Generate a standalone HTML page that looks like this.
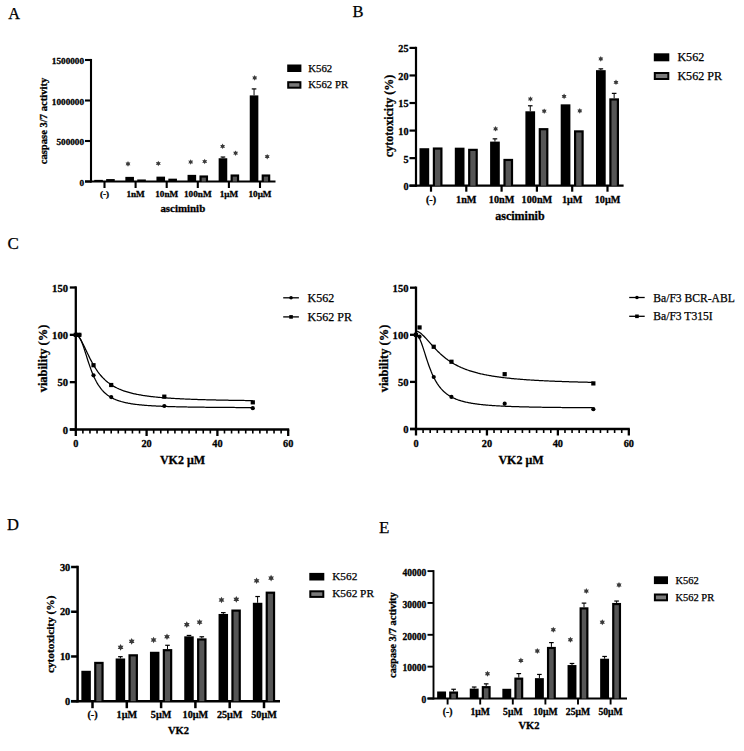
<!DOCTYPE html><html><head><meta charset="utf-8"><style>html,body{margin:0;padding:0;background:#fff;}svg{display:block;font-family:"Liberation Serif",serif;}</style></head><body>
<svg width="744" height="751" viewBox="0 0 744 751">
<rect width="744" height="751" fill="#fff"/>
<text x="8.3" y="19.4" font-size="16.3" font-weight="normal" text-anchor="start" stroke="#000" stroke-width="0.25" fill="#000">A</text>
<text x="352.4" y="17.2" font-size="16.5" font-weight="normal" text-anchor="start" stroke="#000" stroke-width="0.25" fill="#000">B</text>
<text x="7.5" y="249" font-size="17" font-weight="normal" text-anchor="start" stroke="#000" stroke-width="0.25" fill="#000">C</text>
<text x="7" y="530.3" font-size="16.5" font-weight="normal" text-anchor="start" stroke="#000" stroke-width="0.25" fill="#000">D</text>
<text x="379" y="533" font-size="17" font-weight="normal" text-anchor="start" stroke="#000" stroke-width="0.25" fill="#000">E</text>
<line x1="91" y1="58.95" x2="91" y2="182.55" stroke="#000" stroke-width="2.1" stroke-linecap="butt"/>
<line x1="85" y1="181.5" x2="275.5" y2="181.5" stroke="#000" stroke-width="2.1" stroke-linecap="butt"/>
<line x1="85" y1="181.5" x2="91" y2="181.5" stroke="#000" stroke-width="2.1" stroke-linecap="butt"/>
<text x="84" y="185.63" font-size="9.2" font-weight="bold" text-anchor="end" stroke="#000" stroke-width="0.3" fill="#000">0</text>
<line x1="85" y1="141" x2="91" y2="141" stroke="#000" stroke-width="2.1" stroke-linecap="butt"/>
<text x="84" y="145.13" font-size="9.2" font-weight="bold" text-anchor="end" stroke="#000" stroke-width="0.3" fill="#000">500000</text>
<line x1="85" y1="100.5" x2="91" y2="100.5" stroke="#000" stroke-width="2.1" stroke-linecap="butt"/>
<text x="84" y="104.63" font-size="9.2" font-weight="bold" text-anchor="end" stroke="#000" stroke-width="0.3" fill="#000">1000000</text>
<line x1="85" y1="60" x2="91" y2="60" stroke="#000" stroke-width="2.1" stroke-linecap="butt"/>
<text x="84" y="64.13" font-size="9.2" font-weight="bold" text-anchor="end" stroke="#000" stroke-width="0.3" fill="#000">1500000</text>
<line x1="104.5" y1="181.5" x2="104.5" y2="188" stroke="#000" stroke-width="2.1" stroke-linecap="butt"/>
<text x="104.5" y="197" font-size="9.2" font-weight="bold" text-anchor="middle" stroke="#000" stroke-width="0.3" fill="#000">(-)</text>
<rect x="94.25" y="179.88" width="8.6" height="1.62" fill="#000"/>
<rect x="106.15" y="179.07" width="8.6" height="2.43" fill="#000"/>
<line x1="135.6" y1="181.5" x2="135.6" y2="188" stroke="#000" stroke-width="2.1" stroke-linecap="butt"/>
<text x="135.6" y="197" font-size="9.2" font-weight="bold" text-anchor="middle" stroke="#000" stroke-width="0.3" fill="#000">1nM</text>
<rect x="125.35" y="176.88" width="8.6" height="4.62" fill="#000"/>
<rect x="137.25" y="179.47" width="8.6" height="2.03" fill="#000"/>
<line x1="166.7" y1="181.5" x2="166.7" y2="188" stroke="#000" stroke-width="2.1" stroke-linecap="butt"/>
<text x="166.7" y="197" font-size="9.2" font-weight="bold" text-anchor="middle" stroke="#000" stroke-width="0.3" fill="#000">10nM</text>
<rect x="156.45" y="176.64" width="8.6" height="4.86" fill="#000"/>
<rect x="168.35" y="178.66" width="8.6" height="2.84" fill="#000"/>
<line x1="197.8" y1="181.5" x2="197.8" y2="188" stroke="#000" stroke-width="2.1" stroke-linecap="butt"/>
<text x="197.8" y="197" font-size="9.2" font-weight="bold" text-anchor="middle" stroke="#000" stroke-width="0.3" fill="#000">100nM</text>
<rect x="187.55" y="174.86" width="8.6" height="6.64" fill="#000"/>
<rect x="199.45" y="175.43" width="8.6" height="6.07" fill="#000"/>
<rect x="201.65" y="177.62" width="4.2" height="3.87" fill="#565656"/>
<line x1="228.9" y1="181.5" x2="228.9" y2="188" stroke="#000" stroke-width="2.1" stroke-linecap="butt"/>
<text x="228.9" y="197" font-size="9.2" font-weight="bold" text-anchor="middle" stroke="#000" stroke-width="0.3" fill="#000">1&#956;M</text>
<line x1="222.95" y1="157.04" x2="222.95" y2="158.25" stroke="#000" stroke-width="1" stroke-linecap="butt"/>
<line x1="220.65" y1="157.04" x2="225.25" y2="157.04" stroke="#000" stroke-width="1.2" stroke-linecap="butt"/>
<rect x="218.65" y="158.25" width="8.6" height="23.25" fill="#000"/>
<rect x="230.55" y="174.45" width="8.6" height="7.05" fill="#000"/>
<rect x="232.75" y="176.65" width="4.2" height="4.85" fill="#565656"/>
<line x1="260" y1="181.5" x2="260" y2="188" stroke="#000" stroke-width="2.1" stroke-linecap="butt"/>
<text x="260" y="197" font-size="9.2" font-weight="bold" text-anchor="middle" stroke="#000" stroke-width="0.3" fill="#000">10&#956;M</text>
<line x1="254.05" y1="88.92" x2="254.05" y2="95.4" stroke="#000" stroke-width="1" stroke-linecap="butt"/>
<line x1="251.75" y1="88.92" x2="256.35" y2="88.92" stroke="#000" stroke-width="1.2" stroke-linecap="butt"/>
<rect x="249.75" y="95.4" width="8.6" height="86.1" fill="#000"/>
<rect x="261.65" y="174.45" width="8.6" height="7.05" fill="#000"/>
<rect x="263.85" y="176.65" width="4.2" height="4.85" fill="#565656"/>
<polygon points="128,161.1 128.77,162.57 130.42,162.5 129.54,163.9 130.42,165.3 128.77,165.23 128,166.7 127.23,165.23 125.58,165.3 126.46,163.9 125.58,162.5 127.23,162.57" fill="#3a3a3a"/>
<polygon points="158.3,160.7 159.07,162.17 160.72,162.1 159.84,163.5 160.72,164.9 159.07,164.83 158.3,166.3 157.53,164.83 155.88,164.9 156.76,163.5 155.88,162.1 157.53,162.17" fill="#3a3a3a"/>
<polygon points="190.7,159.2 191.47,160.67 193.12,160.6 192.24,162 193.12,163.4 191.47,163.33 190.7,164.8 189.93,163.33 188.28,163.4 189.16,162 188.28,160.6 189.93,160.67" fill="#3a3a3a"/>
<polygon points="204.7,158.7 205.47,160.17 207.12,160.1 206.24,161.5 207.12,162.9 205.47,162.83 204.7,164.3 203.93,162.83 202.28,162.9 203.16,161.5 202.28,160.1 203.93,160.17" fill="#3a3a3a"/>
<polygon points="222.6,143.5 223.37,144.97 225.02,144.9 224.14,146.3 225.02,147.7 223.37,147.63 222.6,149.1 221.83,147.63 220.18,147.7 221.06,146.3 220.18,144.9 221.83,144.97" fill="#3a3a3a"/>
<polygon points="235.6,150.4 236.37,151.87 238.02,151.8 237.14,153.2 238.02,154.6 236.37,154.53 235.6,156 234.83,154.53 233.18,154.6 234.06,153.2 233.18,151.8 234.83,151.87" fill="#3a3a3a"/>
<polygon points="254.7,75.1 255.47,76.57 257.12,76.5 256.24,77.9 257.12,79.3 255.47,79.23 254.7,80.7 253.93,79.23 252.28,79.3 253.16,77.9 252.28,76.5 253.93,76.57" fill="#3a3a3a"/>
<polygon points="267.2,153.9 267.97,155.37 269.62,155.3 268.74,156.7 269.62,158.1 267.97,158.03 267.2,159.5 266.43,158.03 264.78,158.1 265.66,156.7 264.78,155.3 266.43,155.37" fill="#3a3a3a"/>
<text x="182.8" y="211.8" font-size="10.9" font-weight="bold" text-anchor="middle" stroke="#000" stroke-width="0.3" fill="#000">asciminib</text>
<text x="47" y="121" font-size="10.6" font-weight="bold" text-anchor="middle" transform="rotate(-90 47 121)" stroke="#000" stroke-width="0.3" fill="#000">caspase 3/7 activity</text>
<rect x="287.2" y="64.5" width="14.2" height="7.5" fill="#000"/>
<text x="308.2" y="71.5" font-size="10.8" font-weight="normal" text-anchor="start" stroke="#000" stroke-width="0.25" fill="#000">K562</text>
<rect x="287.2" y="81.2" width="14.2" height="7.5" fill="#000"/>
<rect x="289.2" y="83.2" width="10.2" height="3.5" fill="#7a7a7a"/>
<text x="308.2" y="88.2" font-size="10.8" font-weight="normal" text-anchor="start" stroke="#000" stroke-width="0.25" fill="#000">K562 PR</text>
<line x1="416" y1="46.8" x2="416" y2="186.8" stroke="#000" stroke-width="2.2" stroke-linecap="butt"/>
<line x1="409.5" y1="185.7" x2="623.6" y2="185.7" stroke="#000" stroke-width="2.2" stroke-linecap="butt"/>
<line x1="409.5" y1="185.7" x2="416" y2="185.7" stroke="#000" stroke-width="2.2" stroke-linecap="butt"/>
<text x="408.5" y="190.17" font-size="10.2" font-weight="bold" text-anchor="end" stroke="#000" stroke-width="0.3" fill="#000">0</text>
<line x1="409.5" y1="158.14" x2="416" y2="158.14" stroke="#000" stroke-width="2.2" stroke-linecap="butt"/>
<text x="408.5" y="162.61" font-size="10.2" font-weight="bold" text-anchor="end" stroke="#000" stroke-width="0.3" fill="#000">5</text>
<line x1="409.5" y1="130.58" x2="416" y2="130.58" stroke="#000" stroke-width="2.2" stroke-linecap="butt"/>
<text x="408.5" y="135.05" font-size="10.2" font-weight="bold" text-anchor="end" stroke="#000" stroke-width="0.3" fill="#000">10</text>
<line x1="409.5" y1="103.02" x2="416" y2="103.02" stroke="#000" stroke-width="2.2" stroke-linecap="butt"/>
<text x="408.5" y="107.49" font-size="10.2" font-weight="bold" text-anchor="end" stroke="#000" stroke-width="0.3" fill="#000">15</text>
<line x1="409.5" y1="75.46" x2="416" y2="75.46" stroke="#000" stroke-width="2.2" stroke-linecap="butt"/>
<text x="408.5" y="79.93" font-size="10.2" font-weight="bold" text-anchor="end" stroke="#000" stroke-width="0.3" fill="#000">20</text>
<line x1="409.5" y1="47.9" x2="416" y2="47.9" stroke="#000" stroke-width="2.2" stroke-linecap="butt"/>
<text x="408.5" y="52.37" font-size="10.2" font-weight="bold" text-anchor="end" stroke="#000" stroke-width="0.3" fill="#000">25</text>
<line x1="431" y1="185.7" x2="431" y2="191.7" stroke="#000" stroke-width="2.2" stroke-linecap="butt"/>
<text x="431" y="203.3" font-size="10.2" font-weight="bold" text-anchor="middle" stroke="#000" stroke-width="0.3" fill="#000">(-)</text>
<rect x="419.5" y="148.22" width="9.7" height="37.48" fill="#000"/>
<rect x="432.8" y="147.45" width="9.7" height="38.25" fill="#000"/>
<rect x="435" y="149.65" width="5.3" height="36.05" fill="#565656"/>
<line x1="466.3" y1="185.7" x2="466.3" y2="191.7" stroke="#000" stroke-width="2.2" stroke-linecap="butt"/>
<text x="466.3" y="203.3" font-size="10.2" font-weight="bold" text-anchor="middle" stroke="#000" stroke-width="0.3" fill="#000">1nM</text>
<rect x="454.8" y="147.67" width="9.7" height="38.03" fill="#000"/>
<rect x="468.1" y="148.77" width="9.7" height="36.93" fill="#000"/>
<rect x="470.3" y="150.97" width="5.3" height="34.73" fill="#565656"/>
<line x1="501.6" y1="185.7" x2="501.6" y2="191.7" stroke="#000" stroke-width="2.2" stroke-linecap="butt"/>
<text x="501.6" y="203.3" font-size="10.2" font-weight="bold" text-anchor="middle" stroke="#000" stroke-width="0.3" fill="#000">10nM</text>
<line x1="494.95" y1="138.85" x2="494.95" y2="141.6" stroke="#000" stroke-width="1" stroke-linecap="butt"/>
<line x1="492.65" y1="138.85" x2="497.25" y2="138.85" stroke="#000" stroke-width="1.2" stroke-linecap="butt"/>
<rect x="490.1" y="141.6" width="9.7" height="44.1" fill="#000"/>
<rect x="503.4" y="158.86" width="9.7" height="26.84" fill="#000"/>
<rect x="505.6" y="161.06" width="5.3" height="24.64" fill="#565656"/>
<line x1="536.9" y1="185.7" x2="536.9" y2="191.7" stroke="#000" stroke-width="2.2" stroke-linecap="butt"/>
<text x="536.9" y="203.3" font-size="10.2" font-weight="bold" text-anchor="middle" stroke="#000" stroke-width="0.3" fill="#000">100nM</text>
<line x1="530.25" y1="105.78" x2="530.25" y2="111.29" stroke="#000" stroke-width="1" stroke-linecap="butt"/>
<line x1="527.95" y1="105.78" x2="532.55" y2="105.78" stroke="#000" stroke-width="1.2" stroke-linecap="butt"/>
<rect x="525.4" y="111.29" width="9.7" height="74.41" fill="#000"/>
<rect x="538.7" y="128.1" width="9.7" height="57.6" fill="#000"/>
<rect x="540.9" y="130.3" width="5.3" height="55.4" fill="#565656"/>
<line x1="572.2" y1="185.7" x2="572.2" y2="191.7" stroke="#000" stroke-width="2.2" stroke-linecap="butt"/>
<text x="572.2" y="203.3" font-size="10.2" font-weight="bold" text-anchor="middle" stroke="#000" stroke-width="0.3" fill="#000">1&#956;M</text>
<rect x="560.7" y="104.34" width="9.7" height="81.36" fill="#000"/>
<rect x="574" y="130.3" width="9.7" height="55.4" fill="#000"/>
<rect x="576.2" y="132.5" width="5.3" height="53.2" fill="#565656"/>
<line x1="607.5" y1="185.7" x2="607.5" y2="191.7" stroke="#000" stroke-width="2.2" stroke-linecap="butt"/>
<text x="607.5" y="203.3" font-size="10.2" font-weight="bold" text-anchor="middle" stroke="#000" stroke-width="0.3" fill="#000">10&#956;M</text>
<line x1="600.85" y1="68.85" x2="600.85" y2="70.17" stroke="#000" stroke-width="1" stroke-linecap="butt"/>
<line x1="598.55" y1="68.85" x2="603.15" y2="68.85" stroke="#000" stroke-width="1.2" stroke-linecap="butt"/>
<rect x="596" y="70.17" width="9.7" height="115.53" fill="#000"/>
<line x1="614.15" y1="93.37" x2="614.15" y2="98.33" stroke="#000" stroke-width="1" stroke-linecap="butt"/>
<line x1="611.85" y1="93.37" x2="616.45" y2="93.37" stroke="#000" stroke-width="1.2" stroke-linecap="butt"/>
<rect x="609.3" y="98.33" width="9.7" height="87.37" fill="#000"/>
<rect x="611.5" y="100.53" width="5.3" height="85.17" fill="#565656"/>
<polygon points="495.6,126 496.37,127.47 498.02,127.4 497.14,128.8 498.02,130.2 496.37,130.13 495.6,131.6 494.83,130.13 493.18,130.2 494.06,128.8 493.18,127.4 494.83,127.47" fill="#3a3a3a"/>
<polygon points="530.4,96.2 531.17,97.67 532.82,97.6 531.94,99 532.82,100.4 531.17,100.33 530.4,101.8 529.63,100.33 527.98,100.4 528.86,99 527.98,97.6 529.63,97.67" fill="#3a3a3a"/>
<polygon points="544.2,108.4 544.97,109.87 546.62,109.8 545.74,111.2 546.62,112.6 544.97,112.53 544.2,114 543.43,112.53 541.78,112.6 542.66,111.2 541.78,109.8 543.43,109.87" fill="#3a3a3a"/>
<polygon points="564.1,93.6 564.87,95.07 566.52,95 565.64,96.4 566.52,97.8 564.87,97.73 564.1,99.2 563.33,97.73 561.68,97.8 562.56,96.4 561.68,95 563.33,95.07" fill="#3a3a3a"/>
<polygon points="579.8,108.1 580.57,109.57 582.22,109.5 581.34,110.9 582.22,112.3 580.57,112.23 579.8,113.7 579.03,112.23 577.38,112.3 578.26,110.9 577.38,109.5 579.03,109.57" fill="#3a3a3a"/>
<polygon points="600.8,56.1 601.57,57.57 603.22,57.5 602.34,58.9 603.22,60.3 601.57,60.23 600.8,61.7 600.03,60.23 598.38,60.3 599.26,58.9 598.38,57.5 600.03,57.57" fill="#3a3a3a"/>
<polygon points="616,79.5 616.77,80.97 618.42,80.9 617.54,82.3 618.42,83.7 616.77,83.63 616,85.1 615.23,83.63 613.58,83.7 614.46,82.3 613.58,80.9 615.23,80.97" fill="#3a3a3a"/>
<text x="519.9" y="219.6" font-size="12" font-weight="bold" text-anchor="middle" stroke="#000" stroke-width="0.3" fill="#000">asciminib</text>
<text x="392.5" y="116" font-size="12" font-weight="bold" text-anchor="middle" transform="rotate(-90 392.5 116)" stroke="#000" stroke-width="0.3" fill="#000">cytotoxicity (%)</text>
<rect x="653.8" y="53.3" width="15.5" height="8" fill="#000"/>
<text x="677.4" y="60.8" font-size="12.1" font-weight="normal" text-anchor="start" stroke="#000" stroke-width="0.25" fill="#000">K562</text>
<rect x="653.8" y="72" width="15.5" height="8" fill="#000"/>
<rect x="655.8" y="74" width="11.5" height="4" fill="#7a7a7a"/>
<text x="677.4" y="79.5" font-size="12.1" font-weight="normal" text-anchor="start" stroke="#000" stroke-width="0.25" fill="#000">K562 PR</text>
<line x1="75.8" y1="286.35" x2="75.8" y2="430.65" stroke="#000" stroke-width="2.3" stroke-linecap="butt"/>
<line x1="69.8" y1="429.5" x2="289.2" y2="429.5" stroke="#000" stroke-width="2.3" stroke-linecap="butt"/>
<line x1="69.8" y1="429.5" x2="75.8" y2="429.5" stroke="#000" stroke-width="2.3" stroke-linecap="butt"/>
<text x="68" y="433.8" font-size="10.6" font-weight="bold" text-anchor="end" stroke="#000" stroke-width="0.3" fill="#000">0</text>
<line x1="69.8" y1="382.17" x2="75.8" y2="382.17" stroke="#000" stroke-width="2.3" stroke-linecap="butt"/>
<text x="68" y="386.47" font-size="10.6" font-weight="bold" text-anchor="end" stroke="#000" stroke-width="0.3" fill="#000">50</text>
<line x1="69.8" y1="334.83" x2="75.8" y2="334.83" stroke="#000" stroke-width="2.3" stroke-linecap="butt"/>
<text x="68" y="339.13" font-size="10.6" font-weight="bold" text-anchor="end" stroke="#000" stroke-width="0.3" fill="#000">100</text>
<line x1="69.8" y1="287.5" x2="75.8" y2="287.5" stroke="#000" stroke-width="2.3" stroke-linecap="butt"/>
<text x="68" y="291.8" font-size="10.6" font-weight="bold" text-anchor="end" stroke="#000" stroke-width="0.3" fill="#000">150</text>
<line x1="75.8" y1="429.5" x2="75.8" y2="436" stroke="#000" stroke-width="2.3" stroke-linecap="butt"/>
<text x="75.8" y="447.2" font-size="10.3" font-weight="bold" text-anchor="middle" stroke="#000" stroke-width="0.3" fill="#000">0</text>
<line x1="82.88" y1="429.5" x2="82.88" y2="433.5" stroke="#000" stroke-width="1.6" stroke-linecap="butt"/>
<line x1="89.96" y1="429.5" x2="89.96" y2="433.5" stroke="#000" stroke-width="1.6" stroke-linecap="butt"/>
<line x1="97.04" y1="429.5" x2="97.04" y2="433.5" stroke="#000" stroke-width="1.6" stroke-linecap="butt"/>
<line x1="104.12" y1="429.5" x2="104.12" y2="433.5" stroke="#000" stroke-width="1.6" stroke-linecap="butt"/>
<line x1="111.2" y1="429.5" x2="111.2" y2="433.5" stroke="#000" stroke-width="1.6" stroke-linecap="butt"/>
<line x1="118.28" y1="429.5" x2="118.28" y2="433.5" stroke="#000" stroke-width="1.6" stroke-linecap="butt"/>
<line x1="125.36" y1="429.5" x2="125.36" y2="433.5" stroke="#000" stroke-width="1.6" stroke-linecap="butt"/>
<line x1="132.44" y1="429.5" x2="132.44" y2="433.5" stroke="#000" stroke-width="1.6" stroke-linecap="butt"/>
<line x1="139.52" y1="429.5" x2="139.52" y2="433.5" stroke="#000" stroke-width="1.6" stroke-linecap="butt"/>
<line x1="146.6" y1="429.5" x2="146.6" y2="436" stroke="#000" stroke-width="2.3" stroke-linecap="butt"/>
<text x="146.6" y="447.2" font-size="10.3" font-weight="bold" text-anchor="middle" stroke="#000" stroke-width="0.3" fill="#000">20</text>
<line x1="153.68" y1="429.5" x2="153.68" y2="433.5" stroke="#000" stroke-width="1.6" stroke-linecap="butt"/>
<line x1="160.76" y1="429.5" x2="160.76" y2="433.5" stroke="#000" stroke-width="1.6" stroke-linecap="butt"/>
<line x1="167.84" y1="429.5" x2="167.84" y2="433.5" stroke="#000" stroke-width="1.6" stroke-linecap="butt"/>
<line x1="174.92" y1="429.5" x2="174.92" y2="433.5" stroke="#000" stroke-width="1.6" stroke-linecap="butt"/>
<line x1="182" y1="429.5" x2="182" y2="433.5" stroke="#000" stroke-width="1.6" stroke-linecap="butt"/>
<line x1="189.08" y1="429.5" x2="189.08" y2="433.5" stroke="#000" stroke-width="1.6" stroke-linecap="butt"/>
<line x1="196.16" y1="429.5" x2="196.16" y2="433.5" stroke="#000" stroke-width="1.6" stroke-linecap="butt"/>
<line x1="203.24" y1="429.5" x2="203.24" y2="433.5" stroke="#000" stroke-width="1.6" stroke-linecap="butt"/>
<line x1="210.32" y1="429.5" x2="210.32" y2="433.5" stroke="#000" stroke-width="1.6" stroke-linecap="butt"/>
<line x1="217.4" y1="429.5" x2="217.4" y2="436" stroke="#000" stroke-width="2.3" stroke-linecap="butt"/>
<text x="217.4" y="447.2" font-size="10.3" font-weight="bold" text-anchor="middle" stroke="#000" stroke-width="0.3" fill="#000">40</text>
<line x1="224.48" y1="429.5" x2="224.48" y2="433.5" stroke="#000" stroke-width="1.6" stroke-linecap="butt"/>
<line x1="231.56" y1="429.5" x2="231.56" y2="433.5" stroke="#000" stroke-width="1.6" stroke-linecap="butt"/>
<line x1="238.64" y1="429.5" x2="238.64" y2="433.5" stroke="#000" stroke-width="1.6" stroke-linecap="butt"/>
<line x1="245.72" y1="429.5" x2="245.72" y2="433.5" stroke="#000" stroke-width="1.6" stroke-linecap="butt"/>
<line x1="252.8" y1="429.5" x2="252.8" y2="433.5" stroke="#000" stroke-width="1.6" stroke-linecap="butt"/>
<line x1="259.88" y1="429.5" x2="259.88" y2="433.5" stroke="#000" stroke-width="1.6" stroke-linecap="butt"/>
<line x1="266.96" y1="429.5" x2="266.96" y2="433.5" stroke="#000" stroke-width="1.6" stroke-linecap="butt"/>
<line x1="274.04" y1="429.5" x2="274.04" y2="433.5" stroke="#000" stroke-width="1.6" stroke-linecap="butt"/>
<line x1="281.12" y1="429.5" x2="281.12" y2="433.5" stroke="#000" stroke-width="1.6" stroke-linecap="butt"/>
<line x1="288.2" y1="429.5" x2="288.2" y2="436" stroke="#000" stroke-width="2.3" stroke-linecap="butt"/>
<text x="288.2" y="447.2" font-size="10.3" font-weight="bold" text-anchor="middle" stroke="#000" stroke-width="0.3" fill="#000">60</text>
<path d="M75.8 334.83 L76.69 334.95 L77.57 335.36 L78.45 336.14 L79.34 337.28 L80.22 338.78 L81.11 340.61 L82 342.73 L82.88 345.1 L83.77 347.65 L84.65 350.34 L85.53 353.11 L86.42 355.91 L87.3 358.7 L88.19 361.44 L89.08 364.1 L89.96 366.67 L90.84 369.13 L91.73 371.47 L92.61 373.68 L93.5 375.76 L94.38 377.71 L95.27 379.54 L96.16 381.25 L97.04 382.84 L97.92 384.32 L98.81 385.7 L99.69 386.99 L100.58 388.18 L101.47 389.3 L102.35 390.33 L103.23 391.29 L104.12 392.19 L105 393.02 L105.89 393.8 L106.78 394.52 L107.66 395.2 L108.54 395.83 L109.43 396.42 L110.31 396.98 L111.2 397.49 L112.09 397.98 L112.97 398.43 L113.85 398.86 L114.74 399.26 L115.62 399.64 L116.51 399.99 L117.39 400.32 L118.28 400.64 L119.16 400.94 L120.05 401.22 L120.94 401.48 L121.82 401.73 L122.7 401.97 L123.59 402.19 L124.47 402.41 L125.36 402.61 L126.25 402.8 L127.13 402.98 L128.01 403.16 L128.9 403.32 L129.78 403.48 L130.67 403.63 L131.56 403.77 L132.44 403.91 L133.32 404.04 L134.21 404.16 L135.09 404.28 L135.98 404.39 L136.87 404.5 L137.75 404.6 L138.63 404.7 L139.52 404.8 L140.41 404.89 L141.29 404.97 L142.18 405.06 L143.06 405.14 L143.94 405.22 L144.83 405.29 L145.72 405.36 L146.6 405.43 L147.49 405.5 L148.37 405.56 L149.25 405.62 L150.14 405.68 L151.02 405.74 L151.91 405.79 L152.8 405.84 L153.68 405.89 L154.56 405.94 L155.45 405.99 L156.33 406.04 L157.22 406.08 L158.11 406.12 L158.99 406.17 L159.88 406.21 L160.76 406.24 L161.64 406.28 L162.53 406.32 L163.41 406.35 L164.3 406.39 L165.19 406.42 L166.07 406.45 L166.95 406.48 L167.84 406.51 L168.72 406.54 L169.61 406.57 L170.5 406.6 L171.38 406.63 L172.26 406.65 L173.15 406.68 L174.03 406.7 L174.92 406.72 L175.81 406.75 L176.69 406.77 L177.57 406.79 L178.46 406.81 L179.34 406.83 L180.23 406.85 L181.12 406.87 L182 406.89 L182.88 406.91 L183.77 406.93 L184.66 406.95 L185.54 406.96 L186.43 406.98 L187.31 407 L188.19 407.01 L189.08 407.03 L189.97 407.04 L190.85 407.06 L191.74 407.07 L192.62 407.09 L193.5 407.1 L194.39 407.11 L195.27 407.13 L196.16 407.14 L197.05 407.15 L197.93 407.16 L198.81 407.18 L199.7 407.19 L200.58 407.2 L201.47 407.21 L202.36 407.22 L203.24 407.23 L204.12 407.24 L205.01 407.25 L205.89 407.26 L206.78 407.27 L207.67 407.28 L208.55 407.29 L209.44 407.3 L210.32 407.31 L211.2 407.32 L212.09 407.33 L212.98 407.34 L213.86 407.34 L214.75 407.35 L215.63 407.36 L216.51 407.37 L217.4 407.38 L218.29 407.38 L219.17 407.39 L220.06 407.4 L220.94 407.4 L221.82 407.41 L222.71 407.42 L223.59 407.42 L224.48 407.43 L225.37 407.44 L226.25 407.44 L227.13 407.45 L228.02 407.46 L228.9 407.46 L229.79 407.47 L230.68 407.47 L231.56 407.48 L232.44 407.48 L233.33 407.49 L234.21 407.49 L235.1 407.5 L235.99 407.51 L236.87 407.51 L237.75 407.51 L238.64 407.52 L239.52 407.52 L240.41 407.53 L241.3 407.53 L242.18 407.54 L243.06 407.54 L243.95 407.55 L244.83 407.55 L245.72 407.56 L246.61 407.56 L247.49 407.56 L248.38 407.57 L249.26 407.57 L250.14 407.58 L251.03 407.58 L251.92 407.58 L252.8 407.59" stroke="#000" stroke-width="1.25" fill="none"/>
<circle cx="75.8" cy="334.83" r="2.1" fill="#000"/>
<circle cx="79.34" cy="334.83" r="2.1" fill="#000"/>
<circle cx="93.5" cy="375.35" r="2.1" fill="#000"/>
<circle cx="111.2" cy="397.12" r="2.1" fill="#000"/>
<circle cx="164.3" cy="406.02" r="2.1" fill="#000"/>
<circle cx="252.8" cy="408.2" r="2.1" fill="#000"/>
<path d="M75.8 334.83 L76.69 335.05 L77.57 335.62 L78.45 336.47 L79.34 337.56 L80.22 338.86 L81.11 340.33 L82 341.94 L82.88 343.66 L83.77 345.46 L84.65 347.3 L85.53 349.18 L86.42 351.07 L87.3 352.95 L88.19 354.81 L89.08 356.63 L89.96 358.41 L90.84 360.14 L91.73 361.81 L92.61 363.43 L93.5 364.99 L94.38 366.48 L95.27 367.91 L96.16 369.28 L97.04 370.58 L97.92 371.83 L98.81 373.02 L99.69 374.15 L100.58 375.23 L101.47 376.26 L102.35 377.24 L103.23 378.17 L104.12 379.05 L105 379.89 L105.89 380.69 L106.78 381.45 L107.66 382.18 L108.54 382.87 L109.43 383.53 L110.31 384.16 L111.2 384.75 L112.09 385.32 L112.97 385.87 L113.85 386.39 L114.74 386.88 L115.62 387.36 L116.51 387.81 L117.39 388.24 L118.28 388.65 L119.16 389.05 L120.05 389.43 L120.94 389.79 L121.82 390.14 L122.7 390.47 L123.59 390.79 L124.47 391.09 L125.36 391.39 L126.25 391.67 L127.13 391.94 L128.01 392.2 L128.9 392.45 L129.78 392.69 L130.67 392.93 L131.56 393.15 L132.44 393.36 L133.32 393.57 L134.21 393.77 L135.09 393.96 L135.98 394.15 L136.87 394.33 L137.75 394.5 L138.63 394.67 L139.52 394.83 L140.41 394.99 L141.29 395.14 L142.18 395.28 L143.06 395.43 L143.94 395.56 L144.83 395.69 L145.72 395.82 L146.6 395.95 L147.49 396.07 L148.37 396.18 L149.25 396.3 L150.14 396.41 L151.02 396.51 L151.91 396.62 L152.8 396.72 L153.68 396.81 L154.56 396.91 L155.45 397 L156.33 397.09 L157.22 397.18 L158.11 397.26 L158.99 397.34 L159.88 397.42 L160.76 397.5 L161.64 397.57 L162.53 397.65 L163.41 397.72 L164.3 397.79 L165.19 397.86 L166.07 397.92 L166.95 397.99 L167.84 398.05 L168.72 398.11 L169.61 398.17 L170.5 398.23 L171.38 398.29 L172.26 398.34 L173.15 398.4 L174.03 398.45 L174.92 398.5 L175.81 398.55 L176.69 398.6 L177.57 398.65 L178.46 398.7 L179.34 398.74 L180.23 398.79 L181.12 398.83 L182 398.87 L182.88 398.91 L183.77 398.96 L184.66 399 L185.54 399.03 L186.43 399.07 L187.31 399.11 L188.19 399.15 L189.08 399.18 L189.97 399.22 L190.85 399.25 L191.74 399.29 L192.62 399.32 L193.5 399.35 L194.39 399.38 L195.27 399.42 L196.16 399.45 L197.05 399.48 L197.93 399.51 L198.81 399.53 L199.7 399.56 L200.58 399.59 L201.47 399.62 L202.36 399.64 L203.24 399.67 L204.12 399.7 L205.01 399.72 L205.89 399.75 L206.78 399.77 L207.67 399.79 L208.55 399.82 L209.44 399.84 L210.32 399.86 L211.2 399.89 L212.09 399.91 L212.98 399.93 L213.86 399.95 L214.75 399.97 L215.63 399.99 L216.51 400.01 L217.4 400.03 L218.29 400.05 L219.17 400.07 L220.06 400.09 L220.94 400.1 L221.82 400.12 L222.71 400.14 L223.59 400.16 L224.48 400.17 L225.37 400.19 L226.25 400.21 L227.13 400.22 L228.02 400.24 L228.9 400.26 L229.79 400.27 L230.68 400.29 L231.56 400.3 L232.44 400.32 L233.33 400.33 L234.21 400.35 L235.1 400.36 L235.99 400.37 L236.87 400.39 L237.75 400.4 L238.64 400.41 L239.52 400.43 L240.41 400.44 L241.3 400.45 L242.18 400.47 L243.06 400.48 L243.95 400.49 L244.83 400.5 L245.72 400.51 L246.61 400.53 L247.49 400.54 L248.38 400.55 L249.26 400.56 L250.14 400.57 L251.03 400.58 L251.92 400.59 L252.8 400.6" stroke="#000" stroke-width="1.25" fill="none"/>
<rect x="73.7" y="332.73" width="4.2" height="4.2" fill="#000"/>
<rect x="77.24" y="332.73" width="4.2" height="4.2" fill="#000"/>
<rect x="91.4" y="363.12" width="4.2" height="4.2" fill="#000"/>
<rect x="109.1" y="382.91" width="4.2" height="4.2" fill="#000"/>
<rect x="162.2" y="394.55" width="4.2" height="4.2" fill="#000"/>
<rect x="250.7" y="400.23" width="4.2" height="4.2" fill="#000"/>
<text x="182.5" y="463.9" font-size="12" font-weight="bold" text-anchor="middle" stroke="#000" stroke-width="0.3" fill="#000">VK2 &#956;M</text>
<text x="47.3" y="358.5" font-size="12.5" font-weight="bold" text-anchor="middle" transform="rotate(-90 47.3 358.5)" stroke="#000" stroke-width="0.3" fill="#000">viability (%)</text>
<line x1="283.2" y1="297.8" x2="298.9" y2="297.8" stroke="#000" stroke-width="1.3" stroke-linecap="butt"/>
<circle cx="291.05" cy="297.8" r="1.8" fill="#000"/>
<text x="307.6" y="301.8" font-size="12" font-weight="normal" text-anchor="start" stroke="#000" stroke-width="0.25" fill="#000">K562</text>
<line x1="283.2" y1="316.9" x2="298.9" y2="316.9" stroke="#000" stroke-width="1.3" stroke-linecap="butt"/>
<rect x="289.25" y="315.1" width="3.6" height="3.6" fill="#000"/>
<text x="307.6" y="320.9" font-size="12" font-weight="normal" text-anchor="start" stroke="#000" stroke-width="0.25" fill="#000">K562 PR</text>
<line x1="416" y1="286.55" x2="416" y2="430.15" stroke="#000" stroke-width="2.3" stroke-linecap="butt"/>
<line x1="410" y1="429" x2="629.82" y2="429" stroke="#000" stroke-width="2.3" stroke-linecap="butt"/>
<line x1="410" y1="429" x2="416" y2="429" stroke="#000" stroke-width="2.3" stroke-linecap="butt"/>
<text x="408.5" y="433.3" font-size="10.6" font-weight="bold" text-anchor="end" stroke="#000" stroke-width="0.3" fill="#000">0</text>
<line x1="410" y1="381.9" x2="416" y2="381.9" stroke="#000" stroke-width="2.3" stroke-linecap="butt"/>
<text x="408.5" y="386.2" font-size="10.6" font-weight="bold" text-anchor="end" stroke="#000" stroke-width="0.3" fill="#000">50</text>
<line x1="410" y1="334.8" x2="416" y2="334.8" stroke="#000" stroke-width="2.3" stroke-linecap="butt"/>
<text x="408.5" y="339.1" font-size="10.6" font-weight="bold" text-anchor="end" stroke="#000" stroke-width="0.3" fill="#000">100</text>
<line x1="410" y1="287.7" x2="416" y2="287.7" stroke="#000" stroke-width="2.3" stroke-linecap="butt"/>
<text x="408.5" y="292" font-size="10.6" font-weight="bold" text-anchor="end" stroke="#000" stroke-width="0.3" fill="#000">150</text>
<line x1="416" y1="429" x2="416" y2="435.5" stroke="#000" stroke-width="2.3" stroke-linecap="butt"/>
<text x="416" y="447" font-size="10.3" font-weight="bold" text-anchor="middle" stroke="#000" stroke-width="0.3" fill="#000">0</text>
<line x1="423.09" y1="429" x2="423.09" y2="433" stroke="#000" stroke-width="1.6" stroke-linecap="butt"/>
<line x1="430.19" y1="429" x2="430.19" y2="433" stroke="#000" stroke-width="1.6" stroke-linecap="butt"/>
<line x1="437.28" y1="429" x2="437.28" y2="433" stroke="#000" stroke-width="1.6" stroke-linecap="butt"/>
<line x1="444.38" y1="429" x2="444.38" y2="433" stroke="#000" stroke-width="1.6" stroke-linecap="butt"/>
<line x1="451.47" y1="429" x2="451.47" y2="433" stroke="#000" stroke-width="1.6" stroke-linecap="butt"/>
<line x1="458.56" y1="429" x2="458.56" y2="433" stroke="#000" stroke-width="1.6" stroke-linecap="butt"/>
<line x1="465.66" y1="429" x2="465.66" y2="433" stroke="#000" stroke-width="1.6" stroke-linecap="butt"/>
<line x1="472.75" y1="429" x2="472.75" y2="433" stroke="#000" stroke-width="1.6" stroke-linecap="butt"/>
<line x1="479.85" y1="429" x2="479.85" y2="433" stroke="#000" stroke-width="1.6" stroke-linecap="butt"/>
<line x1="486.94" y1="429" x2="486.94" y2="435.5" stroke="#000" stroke-width="2.3" stroke-linecap="butt"/>
<text x="486.94" y="447" font-size="10.3" font-weight="bold" text-anchor="middle" stroke="#000" stroke-width="0.3" fill="#000">20</text>
<line x1="494.03" y1="429" x2="494.03" y2="433" stroke="#000" stroke-width="1.6" stroke-linecap="butt"/>
<line x1="501.13" y1="429" x2="501.13" y2="433" stroke="#000" stroke-width="1.6" stroke-linecap="butt"/>
<line x1="508.22" y1="429" x2="508.22" y2="433" stroke="#000" stroke-width="1.6" stroke-linecap="butt"/>
<line x1="515.32" y1="429" x2="515.32" y2="433" stroke="#000" stroke-width="1.6" stroke-linecap="butt"/>
<line x1="522.41" y1="429" x2="522.41" y2="433" stroke="#000" stroke-width="1.6" stroke-linecap="butt"/>
<line x1="529.5" y1="429" x2="529.5" y2="433" stroke="#000" stroke-width="1.6" stroke-linecap="butt"/>
<line x1="536.6" y1="429" x2="536.6" y2="433" stroke="#000" stroke-width="1.6" stroke-linecap="butt"/>
<line x1="543.69" y1="429" x2="543.69" y2="433" stroke="#000" stroke-width="1.6" stroke-linecap="butt"/>
<line x1="550.79" y1="429" x2="550.79" y2="433" stroke="#000" stroke-width="1.6" stroke-linecap="butt"/>
<line x1="557.88" y1="429" x2="557.88" y2="435.5" stroke="#000" stroke-width="2.3" stroke-linecap="butt"/>
<text x="557.88" y="447" font-size="10.3" font-weight="bold" text-anchor="middle" stroke="#000" stroke-width="0.3" fill="#000">40</text>
<line x1="564.97" y1="429" x2="564.97" y2="433" stroke="#000" stroke-width="1.6" stroke-linecap="butt"/>
<line x1="572.07" y1="429" x2="572.07" y2="433" stroke="#000" stroke-width="1.6" stroke-linecap="butt"/>
<line x1="579.16" y1="429" x2="579.16" y2="433" stroke="#000" stroke-width="1.6" stroke-linecap="butt"/>
<line x1="586.26" y1="429" x2="586.26" y2="433" stroke="#000" stroke-width="1.6" stroke-linecap="butt"/>
<line x1="593.35" y1="429" x2="593.35" y2="433" stroke="#000" stroke-width="1.6" stroke-linecap="butt"/>
<line x1="600.44" y1="429" x2="600.44" y2="433" stroke="#000" stroke-width="1.6" stroke-linecap="butt"/>
<line x1="607.54" y1="429" x2="607.54" y2="433" stroke="#000" stroke-width="1.6" stroke-linecap="butt"/>
<line x1="614.63" y1="429" x2="614.63" y2="433" stroke="#000" stroke-width="1.6" stroke-linecap="butt"/>
<line x1="621.73" y1="429" x2="621.73" y2="433" stroke="#000" stroke-width="1.6" stroke-linecap="butt"/>
<line x1="628.82" y1="429" x2="628.82" y2="435.5" stroke="#000" stroke-width="2.3" stroke-linecap="butt"/>
<text x="628.82" y="447" font-size="10.3" font-weight="bold" text-anchor="middle" stroke="#000" stroke-width="0.3" fill="#000">60</text>
<path d="M416 334.8 L416.89 335.04 L417.77 335.77 L418.66 336.95 L419.55 338.55 L420.43 340.51 L421.32 342.76 L422.21 345.24 L423.09 347.89 L423.98 350.63 L424.87 353.42 L425.75 356.2 L426.64 358.95 L427.53 361.63 L428.41 364.21 L429.3 366.69 L430.19 369.04 L431.07 371.28 L431.96 373.39 L432.85 375.37 L433.74 377.23 L434.62 378.98 L435.51 380.61 L436.4 382.13 L437.28 383.55 L438.17 384.88 L439.06 386.12 L439.94 387.27 L440.83 388.35 L441.72 389.36 L442.6 390.3 L443.49 391.18 L444.38 392 L445.26 392.77 L446.15 393.5 L447.04 394.17 L447.92 394.81 L448.81 395.4 L449.7 395.96 L450.58 396.49 L451.47 396.98 L452.36 397.45 L453.24 397.89 L454.13 398.3 L455.02 398.69 L455.9 399.06 L456.79 399.41 L457.68 399.75 L458.56 400.06 L459.45 400.36 L460.34 400.64 L461.22 400.91 L462.11 401.16 L463 401.4 L463.88 401.63 L464.77 401.85 L465.66 402.06 L466.54 402.26 L467.43 402.45 L468.32 402.63 L469.2 402.81 L470.09 402.97 L470.98 403.13 L471.87 403.28 L472.75 403.43 L473.64 403.57 L474.53 403.7 L475.41 403.83 L476.3 403.95 L477.19 404.07 L478.07 404.18 L478.96 404.29 L479.85 404.4 L480.73 404.5 L481.62 404.59 L482.51 404.69 L483.39 404.78 L484.28 404.86 L485.17 404.95 L486.05 405.03 L486.94 405.11 L487.83 405.18 L488.71 405.25 L489.6 405.32 L490.49 405.39 L491.37 405.46 L492.26 405.52 L493.15 405.58 L494.03 405.64 L494.92 405.7 L495.81 405.75 L496.69 405.8 L497.58 405.86 L498.47 405.91 L499.35 405.96 L500.24 406 L501.13 406.05 L502.01 406.09 L502.9 406.14 L503.79 406.18 L504.68 406.22 L505.56 406.26 L506.45 406.3 L507.34 406.33 L508.22 406.37 L509.11 406.41 L510 406.44 L510.88 406.47 L511.77 406.51 L512.66 406.54 L513.54 406.57 L514.43 406.6 L515.32 406.63 L516.2 406.66 L517.09 406.69 L517.98 406.71 L518.86 406.74 L519.75 406.76 L520.64 406.79 L521.52 406.81 L522.41 406.84 L523.3 406.86 L524.18 406.88 L525.07 406.91 L525.96 406.93 L526.84 406.95 L527.73 406.97 L528.62 406.99 L529.5 407.01 L530.39 407.03 L531.28 407.05 L532.16 407.07 L533.05 407.08 L533.94 407.1 L534.82 407.12 L535.71 407.14 L536.6 407.15 L537.48 407.17 L538.37 407.18 L539.26 407.2 L540.14 407.22 L541.03 407.23 L541.92 407.25 L542.81 407.26 L543.69 407.27 L544.58 407.29 L545.47 407.3 L546.35 407.31 L547.24 407.33 L548.13 407.34 L549.01 407.35 L549.9 407.36 L550.79 407.38 L551.67 407.39 L552.56 407.4 L553.45 407.41 L554.33 407.42 L555.22 407.43 L556.11 407.44 L556.99 407.45 L557.88 407.46 L558.77 407.47 L559.65 407.48 L560.54 407.49 L561.43 407.5 L562.31 407.51 L563.2 407.52 L564.09 407.53 L564.97 407.54 L565.86 407.55 L566.75 407.55 L567.63 407.56 L568.52 407.57 L569.41 407.58 L570.29 407.59 L571.18 407.6 L572.07 407.6 L572.95 407.61 L573.84 407.62 L574.73 407.63 L575.62 407.63 L576.5 407.64 L577.39 407.65 L578.28 407.65 L579.16 407.66 L580.05 407.67 L580.94 407.67 L581.82 407.68 L582.71 407.69 L583.6 407.69 L584.48 407.7 L585.37 407.7 L586.26 407.71 L587.14 407.72 L588.03 407.72 L588.92 407.73 L589.8 407.73 L590.69 407.74 L591.58 407.74 L592.46 407.75 L593.35 407.75" stroke="#000" stroke-width="1.25" fill="none"/>
<circle cx="416" cy="334.8" r="2.1" fill="#000"/>
<circle cx="419.55" cy="336.68" r="2.1" fill="#000"/>
<circle cx="433.74" cy="377" r="2.1" fill="#000"/>
<circle cx="451.47" cy="396.88" r="2.1" fill="#000"/>
<circle cx="504.68" cy="403.66" r="2.1" fill="#000"/>
<circle cx="593.35" cy="409.22" r="2.1" fill="#000"/>
<path d="M416 331.03 L416.89 331.17 L417.77 331.48 L418.66 331.91 L419.55 332.46 L420.43 333.09 L421.32 333.81 L422.21 334.59 L423.09 335.43 L423.98 336.31 L424.87 337.24 L425.75 338.19 L426.64 339.16 L427.53 340.15 L428.41 341.15 L429.3 342.16 L430.19 343.16 L431.07 344.16 L431.96 345.16 L432.85 346.14 L433.74 347.11 L434.62 348.06 L435.51 349 L436.4 349.92 L437.28 350.82 L438.17 351.7 L439.06 352.56 L439.94 353.4 L440.83 354.21 L441.72 355.01 L442.6 355.78 L443.49 356.53 L444.38 357.26 L445.26 357.96 L446.15 358.65 L447.04 359.31 L447.92 359.96 L448.81 360.58 L449.7 361.18 L450.58 361.77 L451.47 362.34 L452.36 362.89 L453.24 363.42 L454.13 363.93 L455.02 364.43 L455.9 364.91 L456.79 365.38 L457.68 365.83 L458.56 366.27 L459.45 366.7 L460.34 367.11 L461.22 367.51 L462.11 367.89 L463 368.27 L463.88 368.63 L464.77 368.98 L465.66 369.32 L466.54 369.65 L467.43 369.97 L468.32 370.28 L469.2 370.58 L470.09 370.88 L470.98 371.16 L471.87 371.44 L472.75 371.7 L473.64 371.96 L474.53 372.22 L475.41 372.46 L476.3 372.7 L477.19 372.93 L478.07 373.16 L478.96 373.37 L479.85 373.59 L480.73 373.79 L481.62 373.99 L482.51 374.19 L483.39 374.38 L484.28 374.57 L485.17 374.75 L486.05 374.92 L486.94 375.09 L487.83 375.26 L488.71 375.42 L489.6 375.58 L490.49 375.74 L491.37 375.89 L492.26 376.03 L493.15 376.18 L494.03 376.32 L494.92 376.45 L495.81 376.58 L496.69 376.71 L497.58 376.84 L498.47 376.96 L499.35 377.08 L500.24 377.2 L501.13 377.32 L502.01 377.43 L502.9 377.54 L503.79 377.65 L504.68 377.75 L505.56 377.85 L506.45 377.96 L507.34 378.05 L508.22 378.15 L509.11 378.24 L510 378.33 L510.88 378.42 L511.77 378.51 L512.66 378.6 L513.54 378.68 L514.43 378.77 L515.32 378.85 L516.2 378.93 L517.09 379 L517.98 379.08 L518.86 379.15 L519.75 379.23 L520.64 379.3 L521.52 379.37 L522.41 379.44 L523.3 379.5 L524.18 379.57 L525.07 379.63 L525.96 379.7 L526.84 379.76 L527.73 379.82 L528.62 379.88 L529.5 379.94 L530.39 380 L531.28 380.05 L532.16 380.11 L533.05 380.16 L533.94 380.22 L534.82 380.27 L535.71 380.32 L536.6 380.37 L537.48 380.42 L538.37 380.47 L539.26 380.52 L540.14 380.57 L541.03 380.61 L541.92 380.66 L542.81 380.7 L543.69 380.75 L544.58 380.79 L545.47 380.83 L546.35 380.88 L547.24 380.92 L548.13 380.96 L549.01 381 L549.9 381.04 L550.79 381.08 L551.67 381.11 L552.56 381.15 L553.45 381.19 L554.33 381.22 L555.22 381.26 L556.11 381.29 L556.99 381.33 L557.88 381.36 L558.77 381.4 L559.65 381.43 L560.54 381.46 L561.43 381.49 L562.31 381.52 L563.2 381.56 L564.09 381.59 L564.97 381.62 L565.86 381.65 L566.75 381.68 L567.63 381.7 L568.52 381.73 L569.41 381.76 L570.29 381.79 L571.18 381.81 L572.07 381.84 L572.95 381.87 L573.84 381.89 L574.73 381.92 L575.62 381.94 L576.5 381.97 L577.39 381.99 L578.28 382.02 L579.16 382.04 L580.05 382.07 L580.94 382.09 L581.82 382.11 L582.71 382.13 L583.6 382.16 L584.48 382.18 L585.37 382.2 L586.26 382.22 L587.14 382.24 L588.03 382.26 L588.92 382.28 L589.8 382.3 L590.69 382.32 L591.58 382.34 L592.46 382.36 L593.35 382.38" stroke="#000" stroke-width="1.25" fill="none"/>
<rect x="413.9" y="332.7" width="4.2" height="4.2" fill="#000"/>
<rect x="417.45" y="325.35" width="4.2" height="4.2" fill="#000"/>
<rect x="431.63" y="344.66" width="4.2" height="4.2" fill="#000"/>
<rect x="449.37" y="359.64" width="4.2" height="4.2" fill="#000"/>
<rect x="502.57" y="372.08" width="4.2" height="4.2" fill="#000"/>
<rect x="591.25" y="381.31" width="4.2" height="4.2" fill="#000"/>
<text x="521" y="463.5" font-size="12" font-weight="bold" text-anchor="middle" stroke="#000" stroke-width="0.3" fill="#000">VK2 &#956;M</text>
<text x="388" y="358.5" font-size="12.5" font-weight="bold" text-anchor="middle" transform="rotate(-90 388 358.5)" stroke="#000" stroke-width="0.3" fill="#000">viability (%)</text>
<line x1="629.2" y1="297.5" x2="644.7" y2="297.5" stroke="#000" stroke-width="1.3" stroke-linecap="butt"/>
<circle cx="636.95" cy="297.5" r="1.8" fill="#000"/>
<text x="653.3" y="301.5" font-size="11.6" font-weight="normal" text-anchor="start" stroke="#000" stroke-width="0.25" fill="#000">Ba/F3 BCR-ABL</text>
<line x1="629.2" y1="316.3" x2="644.7" y2="316.3" stroke="#000" stroke-width="1.3" stroke-linecap="butt"/>
<rect x="635.15" y="314.5" width="3.6" height="3.6" fill="#000"/>
<text x="653.3" y="320.3" font-size="11.6" font-weight="normal" text-anchor="start" stroke="#000" stroke-width="0.25" fill="#000">Ba/F3 T315I</text>
<line x1="77.6" y1="565.75" x2="77.6" y2="702.45" stroke="#000" stroke-width="2.5" stroke-linecap="butt"/>
<line x1="71.1" y1="701.2" x2="280" y2="701.2" stroke="#000" stroke-width="2.5" stroke-linecap="butt"/>
<line x1="71.1" y1="701.2" x2="77.6" y2="701.2" stroke="#000" stroke-width="2.5" stroke-linecap="butt"/>
<text x="70.3" y="704.94" font-size="10.4" font-weight="bold" text-anchor="end" stroke="#000" stroke-width="0.3" fill="#000">0</text>
<line x1="71.1" y1="656.47" x2="77.6" y2="656.47" stroke="#000" stroke-width="2.5" stroke-linecap="butt"/>
<text x="70.3" y="660.2" font-size="10.4" font-weight="bold" text-anchor="end" stroke="#000" stroke-width="0.3" fill="#000">10</text>
<line x1="71.1" y1="611.73" x2="77.6" y2="611.73" stroke="#000" stroke-width="2.5" stroke-linecap="butt"/>
<text x="70.3" y="615.47" font-size="10.4" font-weight="bold" text-anchor="end" stroke="#000" stroke-width="0.3" fill="#000">20</text>
<line x1="71.1" y1="567" x2="77.6" y2="567" stroke="#000" stroke-width="2.5" stroke-linecap="butt"/>
<text x="70.3" y="570.74" font-size="10.4" font-weight="bold" text-anchor="end" stroke="#000" stroke-width="0.3" fill="#000">30</text>
<line x1="92.5" y1="701.2" x2="92.5" y2="708.2" stroke="#000" stroke-width="2.5" stroke-linecap="butt"/>
<text x="92.5" y="718.2" font-size="10.2" font-weight="bold" text-anchor="middle" stroke="#000" stroke-width="0.3" fill="#000">(-)</text>
<rect x="81.35" y="670.78" width="9.5" height="30.42" fill="#000"/>
<rect x="94.15" y="661.83" width="9.5" height="39.37" fill="#000"/>
<rect x="96.35" y="664.03" width="5.1" height="37.17" fill="#565656"/>
<line x1="126.8" y1="701.2" x2="126.8" y2="708.2" stroke="#000" stroke-width="2.5" stroke-linecap="butt"/>
<text x="126.8" y="718.2" font-size="10.2" font-weight="bold" text-anchor="middle" stroke="#000" stroke-width="0.3" fill="#000">1&#956;M</text>
<line x1="120.4" y1="656.69" x2="120.4" y2="658.48" stroke="#000" stroke-width="1" stroke-linecap="butt"/>
<line x1="118.1" y1="656.69" x2="122.7" y2="656.69" stroke="#000" stroke-width="1.2" stroke-linecap="butt"/>
<rect x="115.65" y="658.48" width="9.5" height="42.72" fill="#000"/>
<rect x="128.45" y="654.23" width="9.5" height="46.97" fill="#000"/>
<rect x="130.65" y="656.43" width="5.1" height="44.77" fill="#565656"/>
<line x1="161.1" y1="701.2" x2="161.1" y2="708.2" stroke="#000" stroke-width="2.5" stroke-linecap="butt"/>
<text x="161.1" y="718.2" font-size="10.2" font-weight="bold" text-anchor="middle" stroke="#000" stroke-width="0.3" fill="#000">5&#956;M</text>
<rect x="149.95" y="651.77" width="9.5" height="49.43" fill="#000"/>
<line x1="167.5" y1="645.28" x2="167.5" y2="649.09" stroke="#000" stroke-width="1" stroke-linecap="butt"/>
<line x1="165.2" y1="645.28" x2="169.8" y2="645.28" stroke="#000" stroke-width="1.2" stroke-linecap="butt"/>
<rect x="162.75" y="649.09" width="9.5" height="52.11" fill="#000"/>
<rect x="164.95" y="651.29" width="5.1" height="49.91" fill="#565656"/>
<line x1="195.4" y1="701.2" x2="195.4" y2="708.2" stroke="#000" stroke-width="2.5" stroke-linecap="butt"/>
<text x="195.4" y="718.2" font-size="10.2" font-weight="bold" text-anchor="middle" stroke="#000" stroke-width="0.3" fill="#000">10&#956;M</text>
<line x1="189" y1="635.44" x2="189" y2="636.34" stroke="#000" stroke-width="1" stroke-linecap="butt"/>
<line x1="186.7" y1="635.44" x2="191.3" y2="635.44" stroke="#000" stroke-width="1.2" stroke-linecap="butt"/>
<rect x="184.25" y="636.34" width="9.5" height="64.86" fill="#000"/>
<line x1="201.8" y1="636.78" x2="201.8" y2="638.35" stroke="#000" stroke-width="1" stroke-linecap="butt"/>
<line x1="199.5" y1="636.78" x2="204.1" y2="636.78" stroke="#000" stroke-width="1.2" stroke-linecap="butt"/>
<rect x="197.05" y="638.35" width="9.5" height="62.85" fill="#000"/>
<rect x="199.25" y="640.55" width="5.1" height="60.65" fill="#565656"/>
<line x1="229.7" y1="701.2" x2="229.7" y2="708.2" stroke="#000" stroke-width="2.5" stroke-linecap="butt"/>
<text x="229.7" y="718.2" font-size="10.2" font-weight="bold" text-anchor="middle" stroke="#000" stroke-width="0.3" fill="#000">25&#956;M</text>
<line x1="223.3" y1="612.63" x2="223.3" y2="613.97" stroke="#000" stroke-width="1" stroke-linecap="butt"/>
<line x1="221" y1="612.63" x2="225.6" y2="612.63" stroke="#000" stroke-width="1.2" stroke-linecap="butt"/>
<rect x="218.55" y="613.97" width="9.5" height="87.23" fill="#000"/>
<rect x="231.35" y="609.5" width="9.5" height="91.7" fill="#000"/>
<rect x="233.55" y="611.7" width="5.1" height="89.5" fill="#565656"/>
<line x1="264" y1="701.2" x2="264" y2="708.2" stroke="#000" stroke-width="2.5" stroke-linecap="butt"/>
<text x="264" y="718.2" font-size="10.2" font-weight="bold" text-anchor="middle" stroke="#000" stroke-width="0.3" fill="#000">50&#956;M</text>
<line x1="257.6" y1="596.52" x2="257.6" y2="602.79" stroke="#000" stroke-width="1" stroke-linecap="butt"/>
<line x1="255.3" y1="596.52" x2="259.9" y2="596.52" stroke="#000" stroke-width="1.2" stroke-linecap="butt"/>
<rect x="252.85" y="602.79" width="9.5" height="98.41" fill="#000"/>
<rect x="265.65" y="591.6" width="9.5" height="109.6" fill="#000"/>
<rect x="267.85" y="593.8" width="5.1" height="107.4" fill="#565656"/>
<polygon points="120.6,644.1 121.51,645.83 123.46,645.75 122.41,647.4 123.46,649.05 121.51,648.97 120.6,650.7 119.69,648.97 117.74,649.05 118.78,647.4 117.74,645.75 119.69,645.83" fill="#3a3a3a"/>
<polygon points="131.7,638.1 132.61,639.83 134.56,639.75 133.51,641.4 134.56,643.05 132.61,642.97 131.7,644.7 130.79,642.97 128.84,643.05 129.88,641.4 128.84,639.75 130.79,639.83" fill="#3a3a3a"/>
<polygon points="153.6,636.7 154.51,638.43 156.46,638.35 155.41,640 156.46,641.65 154.51,641.57 153.6,643.3 152.69,641.57 150.74,641.65 151.78,640 150.74,638.35 152.69,638.43" fill="#3a3a3a"/>
<polygon points="167,633.4 167.91,635.13 169.86,635.05 168.81,636.7 169.86,638.35 167.91,638.27 167,640 166.09,638.27 164.14,638.35 165.19,636.7 164.14,635.05 166.09,635.13" fill="#3a3a3a"/>
<polygon points="186.8,621.3 187.71,623.03 189.66,622.95 188.62,624.6 189.66,626.25 187.71,626.17 186.8,627.9 185.89,626.17 183.94,626.25 184.99,624.6 183.94,622.95 185.89,623.03" fill="#3a3a3a"/>
<polygon points="199.6,618.9 200.51,620.63 202.46,620.55 201.41,622.2 202.46,623.85 200.51,623.77 199.6,625.5 198.69,623.77 196.74,623.85 197.78,622.2 196.74,620.55 198.69,620.63" fill="#3a3a3a"/>
<polygon points="221.5,596.7 222.41,598.43 224.36,598.35 223.31,600 224.36,601.65 222.41,601.57 221.5,603.3 220.59,601.57 218.64,601.65 219.69,600 218.64,598.35 220.59,598.43" fill="#3a3a3a"/>
<polygon points="236.3,596.1 237.21,597.83 239.16,597.75 238.12,599.4 239.16,601.05 237.21,600.97 236.3,602.7 235.39,600.97 233.44,601.05 234.49,599.4 233.44,597.75 235.39,597.83" fill="#3a3a3a"/>
<polygon points="256.6,577.5 257.51,579.23 259.46,579.15 258.42,580.8 259.46,582.45 257.51,582.37 256.6,584.1 255.69,582.37 253.74,582.45 254.79,580.8 253.74,579.15 255.69,579.23" fill="#3a3a3a"/>
<polygon points="271.1,574.8 272.01,576.53 273.96,576.45 272.92,578.1 273.96,579.75 272.01,579.67 271.1,581.4 270.19,579.67 268.24,579.75 269.29,578.1 268.24,576.45 270.19,576.53" fill="#3a3a3a"/>
<text x="178.5" y="734.4" font-size="10.5" font-weight="bold" text-anchor="middle" stroke="#000" stroke-width="0.3" fill="#000">VK2</text>
<text x="54" y="634.3" font-size="11.3" font-weight="bold" text-anchor="middle" transform="rotate(-90 54 634.3)" stroke="#000" stroke-width="0.3" fill="#000">cytotoxicity (%)</text>
<rect x="309.3" y="572.9" width="15" height="7.6" fill="#000"/>
<text x="332.2" y="580" font-size="11.3" font-weight="normal" text-anchor="start" stroke="#000" stroke-width="0.25" fill="#000">K562</text>
<rect x="309.3" y="590.3" width="15" height="7.6" fill="#000"/>
<rect x="311.3" y="592.3" width="11" height="3.6" fill="#7a7a7a"/>
<text x="332.2" y="597.4" font-size="11.3" font-weight="normal" text-anchor="start" stroke="#000" stroke-width="0.25" fill="#000">K562 PR</text>
<line x1="433.5" y1="570.15" x2="433.5" y2="699.45" stroke="#000" stroke-width="1.9" stroke-linecap="butt"/>
<line x1="427.5" y1="698.5" x2="627" y2="698.5" stroke="#000" stroke-width="1.9" stroke-linecap="butt"/>
<line x1="427.5" y1="698.5" x2="433.5" y2="698.5" stroke="#000" stroke-width="1.9" stroke-linecap="butt"/>
<text x="426.3" y="703.23" font-size="9.5" font-weight="bold" text-anchor="end" stroke="#000" stroke-width="0.3" fill="#000">0</text>
<line x1="427.5" y1="666.65" x2="433.5" y2="666.65" stroke="#000" stroke-width="1.9" stroke-linecap="butt"/>
<text x="426.3" y="671.38" font-size="9.5" font-weight="bold" text-anchor="end" stroke="#000" stroke-width="0.3" fill="#000">10000</text>
<line x1="427.5" y1="634.8" x2="433.5" y2="634.8" stroke="#000" stroke-width="1.9" stroke-linecap="butt"/>
<text x="426.3" y="639.53" font-size="9.5" font-weight="bold" text-anchor="end" stroke="#000" stroke-width="0.3" fill="#000">20000</text>
<line x1="427.5" y1="602.95" x2="433.5" y2="602.95" stroke="#000" stroke-width="1.9" stroke-linecap="butt"/>
<text x="426.3" y="607.68" font-size="9.5" font-weight="bold" text-anchor="end" stroke="#000" stroke-width="0.3" fill="#000">30000</text>
<line x1="427.5" y1="571.1" x2="433.5" y2="571.1" stroke="#000" stroke-width="1.9" stroke-linecap="butt"/>
<text x="426.3" y="575.83" font-size="9.5" font-weight="bold" text-anchor="end" stroke="#000" stroke-width="0.3" fill="#000">40000</text>
<line x1="447.6" y1="698.5" x2="447.6" y2="704.5" stroke="#000" stroke-width="1.9" stroke-linecap="butt"/>
<text x="447.6" y="715.3" font-size="9.7" font-weight="bold" text-anchor="middle" stroke="#000" stroke-width="0.3" fill="#000">(-)</text>
<rect x="437.15" y="691.49" width="8.9" height="7.01" fill="#000"/>
<line x1="453.6" y1="689.26" x2="453.6" y2="691.49" stroke="#000" stroke-width="1" stroke-linecap="butt"/>
<line x1="451.3" y1="689.26" x2="455.9" y2="689.26" stroke="#000" stroke-width="1.2" stroke-linecap="butt"/>
<rect x="449.15" y="691.49" width="8.9" height="7.01" fill="#000"/>
<rect x="451.35" y="693.69" width="4.5" height="4.81" fill="#565656"/>
<line x1="480.2" y1="698.5" x2="480.2" y2="704.5" stroke="#000" stroke-width="1.9" stroke-linecap="butt"/>
<text x="480.2" y="715.3" font-size="9.7" font-weight="bold" text-anchor="middle" stroke="#000" stroke-width="0.3" fill="#000">1&#956;M</text>
<line x1="474.2" y1="687.03" x2="474.2" y2="688.63" stroke="#000" stroke-width="1" stroke-linecap="butt"/>
<line x1="471.9" y1="687.03" x2="476.5" y2="687.03" stroke="#000" stroke-width="1.2" stroke-linecap="butt"/>
<rect x="469.75" y="688.63" width="8.9" height="9.87" fill="#000"/>
<line x1="486.2" y1="683.85" x2="486.2" y2="686.08" stroke="#000" stroke-width="1" stroke-linecap="butt"/>
<line x1="483.9" y1="683.85" x2="488.5" y2="683.85" stroke="#000" stroke-width="1.2" stroke-linecap="butt"/>
<rect x="481.75" y="686.08" width="8.9" height="12.42" fill="#000"/>
<rect x="483.95" y="688.28" width="4.5" height="10.22" fill="#565656"/>
<line x1="512.8" y1="698.5" x2="512.8" y2="704.5" stroke="#000" stroke-width="1.9" stroke-linecap="butt"/>
<text x="512.8" y="715.3" font-size="9.7" font-weight="bold" text-anchor="middle" stroke="#000" stroke-width="0.3" fill="#000">5&#956;M</text>
<rect x="502.35" y="688.79" width="8.9" height="9.71" fill="#000"/>
<line x1="518.8" y1="673.59" x2="518.8" y2="677.57" stroke="#000" stroke-width="1" stroke-linecap="butt"/>
<line x1="516.5" y1="673.59" x2="521.1" y2="673.59" stroke="#000" stroke-width="1.2" stroke-linecap="butt"/>
<rect x="514.35" y="677.57" width="8.9" height="20.93" fill="#000"/>
<rect x="516.55" y="679.77" width="4.5" height="18.73" fill="#565656"/>
<line x1="545.4" y1="698.5" x2="545.4" y2="704.5" stroke="#000" stroke-width="1.9" stroke-linecap="butt"/>
<text x="545.4" y="715.3" font-size="9.7" font-weight="bold" text-anchor="middle" stroke="#000" stroke-width="0.3" fill="#000">10&#956;M</text>
<line x1="539.4" y1="674.45" x2="539.4" y2="678.15" stroke="#000" stroke-width="1" stroke-linecap="butt"/>
<line x1="537.1" y1="674.45" x2="541.7" y2="674.45" stroke="#000" stroke-width="1.2" stroke-linecap="butt"/>
<rect x="534.95" y="678.15" width="8.9" height="20.35" fill="#000"/>
<line x1="551.4" y1="642.6" x2="551.4" y2="646.9" stroke="#000" stroke-width="1" stroke-linecap="butt"/>
<line x1="549.1" y1="642.6" x2="553.7" y2="642.6" stroke="#000" stroke-width="1.2" stroke-linecap="butt"/>
<rect x="546.95" y="646.9" width="8.9" height="51.6" fill="#000"/>
<rect x="549.15" y="649.1" width="4.5" height="49.4" fill="#565656"/>
<line x1="578" y1="698.5" x2="578" y2="704.5" stroke="#000" stroke-width="1.9" stroke-linecap="butt"/>
<text x="578" y="715.3" font-size="9.7" font-weight="bold" text-anchor="middle" stroke="#000" stroke-width="0.3" fill="#000">25&#956;M</text>
<line x1="572" y1="663.47" x2="572" y2="665.06" stroke="#000" stroke-width="1" stroke-linecap="butt"/>
<line x1="569.7" y1="663.47" x2="574.3" y2="663.47" stroke="#000" stroke-width="1.2" stroke-linecap="butt"/>
<rect x="567.55" y="665.06" width="8.9" height="33.44" fill="#000"/>
<line x1="584" y1="603.11" x2="584" y2="607.31" stroke="#000" stroke-width="1" stroke-linecap="butt"/>
<line x1="581.7" y1="603.11" x2="586.3" y2="603.11" stroke="#000" stroke-width="1.2" stroke-linecap="butt"/>
<rect x="579.55" y="607.31" width="8.9" height="91.19" fill="#000"/>
<rect x="581.75" y="609.51" width="4.5" height="88.99" fill="#565656"/>
<line x1="610.6" y1="698.5" x2="610.6" y2="704.5" stroke="#000" stroke-width="1.9" stroke-linecap="butt"/>
<text x="610.6" y="715.3" font-size="9.7" font-weight="bold" text-anchor="middle" stroke="#000" stroke-width="0.3" fill="#000">50&#956;M</text>
<line x1="604.6" y1="656.46" x2="604.6" y2="658.72" stroke="#000" stroke-width="1" stroke-linecap="butt"/>
<line x1="602.3" y1="656.46" x2="606.9" y2="656.46" stroke="#000" stroke-width="1.2" stroke-linecap="butt"/>
<rect x="600.15" y="658.72" width="8.9" height="39.78" fill="#000"/>
<line x1="616.6" y1="601.04" x2="616.6" y2="602.95" stroke="#000" stroke-width="1" stroke-linecap="butt"/>
<line x1="614.3" y1="601.04" x2="618.9" y2="601.04" stroke="#000" stroke-width="1.2" stroke-linecap="butt"/>
<rect x="612.15" y="602.95" width="8.9" height="95.55" fill="#000"/>
<rect x="614.35" y="605.15" width="4.5" height="93.35" fill="#565656"/>
<polygon points="487.5,670.8 488.32,672.37 490.1,672.3 489.15,673.8 490.1,675.3 488.32,675.23 487.5,676.8 486.68,675.23 484.9,675.3 485.85,673.8 484.9,672.3 486.68,672.37" fill="#3a3a3a"/>
<polygon points="520.9,657.6 521.73,659.17 523.5,659.1 522.55,660.6 523.5,662.1 521.73,662.03 520.9,663.6 520.07,662.03 518.3,662.1 519.25,660.6 518.3,659.1 520.07,659.17" fill="#3a3a3a"/>
<polygon points="537.3,648 538.12,649.57 539.9,649.5 538.95,651 539.9,652.5 538.12,652.43 537.3,654 536.47,652.43 534.7,652.5 535.65,651 534.7,649.5 536.47,649.57" fill="#3a3a3a"/>
<polygon points="553.3,626.7 554.12,628.27 555.9,628.2 554.95,629.7 555.9,631.2 554.12,631.13 553.3,632.7 552.47,631.13 550.7,631.2 551.65,629.7 550.7,628.2 552.47,628.27" fill="#3a3a3a"/>
<polygon points="570.4,636.7 571.23,638.27 573,638.2 572.05,639.7 573,641.2 571.23,641.13 570.4,642.7 569.57,641.13 567.8,641.2 568.75,639.7 567.8,638.2 569.57,638.27" fill="#3a3a3a"/>
<polygon points="586.3,588.1 587.12,589.67 588.9,589.6 587.95,591.1 588.9,592.6 587.12,592.53 586.3,594.1 585.47,592.53 583.7,592.6 584.65,591.1 583.7,589.6 585.47,589.67" fill="#3a3a3a"/>
<polygon points="602.3,619.2 603.12,620.77 604.9,620.7 603.95,622.2 604.9,623.7 603.12,623.63 602.3,625.2 601.47,623.63 599.7,623.7 600.65,622.2 599.7,620.7 601.47,620.77" fill="#3a3a3a"/>
<polygon points="619,582 619.83,583.57 621.6,583.5 620.65,585 621.6,586.5 619.83,586.43 619,588 618.17,586.43 616.4,586.5 617.35,585 616.4,583.5 618.17,583.57" fill="#3a3a3a"/>
<text x="529" y="729" font-size="10.5" font-weight="bold" text-anchor="middle" stroke="#000" stroke-width="0.3" fill="#000">VK2</text>
<text x="396" y="635" font-size="10.5" font-weight="bold" text-anchor="middle" transform="rotate(-90 396 635)" stroke="#000" stroke-width="0.3" fill="#000">caspase 3/7 activity</text>
<rect x="653.9" y="576.3" width="14.1" height="7.8" fill="#000"/>
<text x="675.4" y="583.6" font-size="10.5" font-weight="normal" text-anchor="start" stroke="#000" stroke-width="0.25" fill="#000">K562</text>
<rect x="653.9" y="593.5" width="14.1" height="7.8" fill="#000"/>
<rect x="655.9" y="595.5" width="10.1" height="3.8" fill="#7a7a7a"/>
<text x="675.4" y="600.8" font-size="10.5" font-weight="normal" text-anchor="start" stroke="#000" stroke-width="0.25" fill="#000">K562 PR</text>
</svg></body></html>
